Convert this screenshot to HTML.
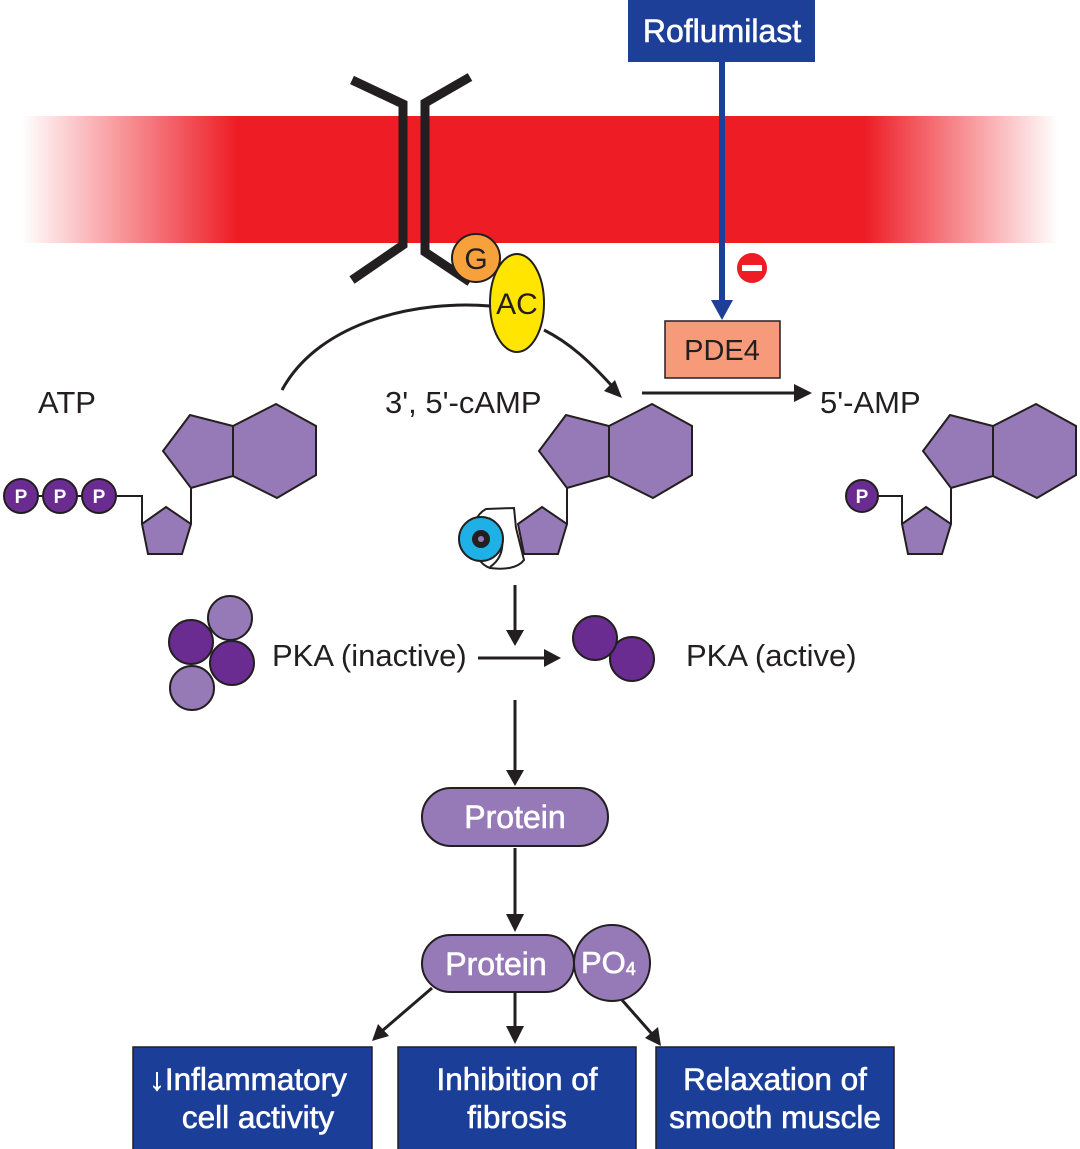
<!DOCTYPE html>
<html><head><meta charset="utf-8"><style>
html,body{margin:0;padding:0;background:#fff;}
svg{display:block;font-family:"Liberation Sans",sans-serif;}
.w{fill:#fff;stroke:#fff;stroke-width:0.6;}
</style></head><body>
<svg width="1080" height="1149" viewBox="0 0 1080 1149" xmlns="http://www.w3.org/2000/svg">
<defs>
<linearGradient id="mem" x1="0" x2="1" y1="0" y2="0">
<stop offset="0.02" stop-color="#ee1c25" stop-opacity="0"/>
<stop offset="0.22" stop-color="#ee1c25" stop-opacity="1"/>
<stop offset="0.80" stop-color="#ee1c25" stop-opacity="1"/>
<stop offset="0.98" stop-color="#ee1c25" stop-opacity="0"/>
</linearGradient>
<g id="mol">
<polygon points="233,426 276,404 316,426 316,475 277,498 233,476" fill="#967ab7" stroke="#231f20" stroke-width="2"/>
<polygon points="190,415 163,451 191,488 233,476 233,426" fill="#967ab7" stroke="#231f20" stroke-width="2"/>
<polygon points="166,507 191,524 182,554 148,554 142,524" fill="#967ab7" stroke="#231f20" stroke-width="2"/>
<line x1="191" y1="524" x2="191" y2="488" stroke="#231f20" stroke-width="2"/>
</g>
</defs>
<rect x="0" y="116" width="1080" height="127" fill="url(#mem)"/>
<polyline points="352,80 403,104 403,245 352,280" fill="none" stroke="#231f20" stroke-width="9"/>
<polyline points="470,77 425,103 425,252 470,282" fill="none" stroke="#231f20" stroke-width="9"/>
<circle cx="476" cy="258" r="24" fill="#f7a13c" stroke="#231f20" stroke-width="2"/>
<text x="476" y="269" font-size="30" text-anchor="middle" fill="#231f20">G</text>
<ellipse cx="517" cy="303" rx="27" ry="49" fill="#ffe500" stroke="#231f20" stroke-width="2"/>
<text x="517" y="314" font-size="30" text-anchor="middle" fill="#231f20">AC</text>
<path d="M282,390 C320,320 420,300 490,306" fill="none" stroke="#231f20" stroke-width="3"/>
<path d="M544,330 C570,343 590,362 612,386" fill="none" stroke="#231f20" stroke-width="3"/>
<polygon points="622,398 604,391 615,380" fill="#231f20"/>
<rect x="628" y="0" width="187" height="62" fill="#1d3f97"/>
<text x="722" y="42" font-size="32" text-anchor="middle" class="w">Roflumilast</text>
<line x1="722" y1="62" x2="722" y2="302" stroke="#1d3f97" stroke-width="6"/>
<polygon points="711,300 733,300 722,320" fill="#1d3f97"/>
<circle cx="752" cy="268" r="15" fill="#ee1c25"/>
<rect x="742" y="265" width="20" height="6" fill="#fff"/>
<rect x="665" y="321" width="115" height="57" fill="#f79a7a" stroke="#231f20" stroke-width="1.5"/>
<text x="722" y="360" font-size="29" text-anchor="middle" fill="#231f20">PDE4</text>
<line x1="642" y1="393" x2="798" y2="393" stroke="#231f20" stroke-width="3"/>
<polygon points="812,393 794,384 794,402" fill="#231f20"/>
<g font-size="31" fill="#231f20">
<text x="38" y="413">ATP</text>
<text x="385" y="413">3', 5'-cAMP</text>
<text x="820" y="413">5'-AMP</text>
<text x="272" y="666">PKA (inactive)</text>
<text x="686" y="666">PKA (active)</text>
</g>
<use href="#mol"/>
<polyline points="117,496 142,496 142,524" fill="none" stroke="#231f20" stroke-width="2"/>
<line x1="21" y1="496" x2="99" y2="496" stroke="#231f20" stroke-width="2"/>
<g fill="#6b2c91" stroke="#231f20" stroke-width="2">
<circle cx="21" cy="496" r="17"/><circle cx="60" cy="496" r="17"/><circle cx="99" cy="496" r="17"/>
</g>
<g font-size="19" font-weight="bold" fill="#fff" text-anchor="middle">
<text x="21" y="503">P</text><text x="60" y="503">P</text><text x="99" y="503">P</text>
</g>
<use href="#mol" transform="translate(376,0)"/>
<path d="M486,509 L514,508 L516,528 L524,560 C518,568 505,570 490,568 C470,562 465,520 486,509 Z" fill="#fff" stroke="#231f20" stroke-width="2"/>
<path d="M489,518 C505,530 508,555 490,567" fill="none" stroke="#231f20" stroke-width="2"/>
<circle cx="481" cy="539" r="22" fill="#1fb1e6" stroke="#231f20" stroke-width="2"/>
<circle cx="481" cy="539" r="9" fill="#231f20"/>
<circle cx="481" cy="539" r="3" fill="#967ab7"/>
<use href="#mol" transform="translate(760,0)"/>
<polyline points="877,496 902,496 902,524" fill="none" stroke="#231f20" stroke-width="2"/>
<circle cx="862" cy="496" r="16" fill="#6b2c91" stroke="#231f20" stroke-width="2"/>
<text x="862" y="503" font-size="19" font-weight="bold" fill="#fff" text-anchor="middle">P</text>
<g stroke="#231f20" stroke-width="2">
<circle cx="230" cy="618" r="22" fill="#967ab7"/>
<circle cx="191" cy="642" r="22" fill="#6b2c91"/>
<circle cx="232" cy="663" r="22" fill="#6b2c91"/>
<circle cx="192" cy="688" r="22" fill="#967ab7"/>
<circle cx="632" cy="659" r="22" fill="#6b2c91"/>
<circle cx="595" cy="638" r="22" fill="#6b2c91"/>
</g>
<g stroke="#231f20" stroke-width="3">
<line x1="515" y1="585" x2="515" y2="632"/>
<line x1="478" y1="658" x2="546" y2="658"/>
<line x1="515" y1="700" x2="515" y2="772"/>
<line x1="515" y1="848" x2="515" y2="916"/>
<line x1="432" y1="988" x2="382" y2="1031"/>
<line x1="515" y1="993" x2="515" y2="1028"/>
<line x1="622" y1="1000" x2="652" y2="1034"/>
</g>
<g fill="#231f20">
<polygon points="506,630 524,630 515,646"/>
<polygon points="544,649 544,667 561,658"/>
<polygon points="506,770 524,770 515,786"/>
<polygon points="506,914 524,914 515,932"/>
<polygon points="506,1026 524,1026 515,1044"/>
<polygon points="372,1041 378,1024 389,1036"/>
<polygon points="661,1046 645,1038 658,1027"/>
</g>
<rect x="422" y="788" width="186" height="58" rx="29" fill="#967ab7" stroke="#231f20" stroke-width="2"/>
<text x="515" y="828" font-size="32" text-anchor="middle" class="w">Protein</text>
<rect x="422" y="935" width="152" height="57" rx="28.5" fill="#967ab7" stroke="#231f20" stroke-width="2"/>
<text x="496" y="975" font-size="32" text-anchor="middle" class="w">Protein</text>
<circle cx="612" cy="963" r="38" fill="#967ab7" stroke="#231f20" stroke-width="2"/>
<text x="581" y="973" font-size="31" class="w">PO<tspan font-size="18" dy="2">4</tspan></text>
<g fill="#1b3f98" stroke="#231f20" stroke-width="1.5">
<rect x="133" y="1047" width="239" height="104"/>
<rect x="398" y="1047" width="238" height="104"/>
<rect x="656" y="1047" width="238" height="104"/>
</g>
<g font-size="31.5" text-anchor="middle" class="w">
<text x="248" y="1090">↓Inflammatory</text><text x="258" y="1128">cell activity</text>
<text x="517" y="1090">Inhibition of</text><text x="517" y="1128">fibrosis</text>
<text x="775" y="1090">Relaxation of</text><text x="775" y="1128">smooth muscle</text>
</g>
</svg>
</body></html>
